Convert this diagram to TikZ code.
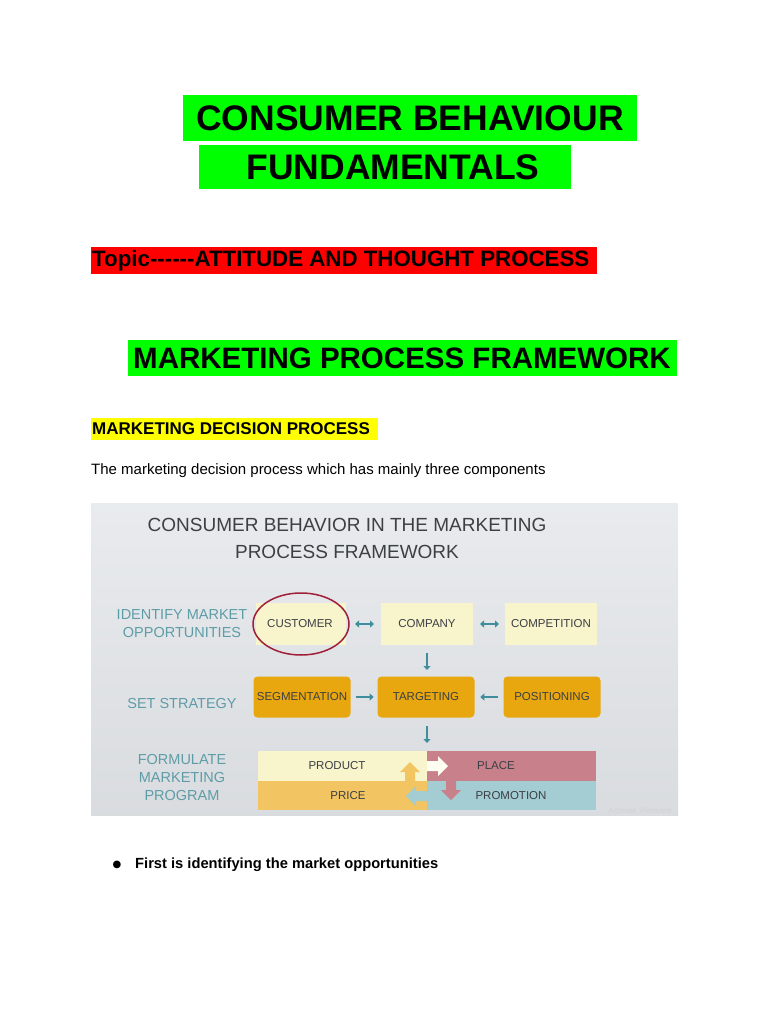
\documentclass[tikz,border=0pt]{standalone}
\usepackage{fontspec}
\setmainfont{Liberation Sans}
\newfontfamily\dv{DejaVu Sans}
\usetikzlibrary{arrows.meta,shapes.geometric}
\definecolor{hgreen}{HTML}{00FF00}
\definecolor{hred}{HTML}{FF0000}
\definecolor{hyel}{HTML}{FFFF00}
\definecolor{imgbg}{HTML}{E3E6EA}
\definecolor{teal}{HTML}{5E9CA8}
\definecolor{lyel}{HTML}{F8F4CC}
\definecolor{orng}{HTML}{E8A70E}
\definecolor{pinkc}{HTML}{C8808A}
\definecolor{pricec}{HTML}{F2C462}
\definecolor{promc}{HTML}{A3CCD3}
\definecolor{arr}{HTML}{3F8E9E}
\definecolor{ttl}{HTML}{3C3F44}
\tikzset{x=1pt,y=-1pt,
 lbox/.style={fill=lyel,minimum width=92pt,minimum height=42pt,font=\fontsize{11.5}{12}\selectfont,text=ttl},
 obox/.style={fill=orng,rounded corners=4pt,minimum width=97pt,minimum height=41pt,font=\fontsize{11.5}{12}\selectfont,text=ttl},
 side/.style={text=teal,font=\fontsize{14.5}{18}\selectfont,align=center},
 conn/.style={arr,line width=2pt,-{Triangle[length=4pt,width=7pt]}},
 biconn/.style={arr,line width=2pt,{Triangle[length=4pt,width=7pt]}-{Triangle[length=4pt,width=7pt]}},
 qtext/.style={font=\fontsize{11.5}{12}\selectfont,text=ttl}}
\begin{document}
\begin{tikzpicture}
\useasboundingbox (0,0) rectangle (768,1024);
\fill[white] (0,0) rectangle (768,1024);
% headings
\fill[hgreen] (183,95) rectangle (637,141);
\fill[hgreen] (199,145) rectangle (571,189);
\node (t1) at (410,118) {\fontsize{35.5}{35}\selectfont\bfseries CONSUMER BEHAVIOUR};
\node (t2) at (393,167) {\fontsize{35.5}{35}\selectfont\bfseries FUNDAMENTALS};
\fill[hred] (91,247) rectangle (597,274);
\node[anchor=west,inner sep=0pt] (topic) at (92,261) {\fontsize{22.3}{22}\selectfont\bfseries Topic{-}{-}{-}{-}{-}{-}ATTITUDE AND THOUGHT PROCESS};
\fill[hgreen] (128,340) rectangle (677,376);
\node (mpf) at (402,358) {\fontsize{29.5}{29}\selectfont\bfseries MARKETING PROCESS FRAMEWORK};
\fill[hyel] (91,418) rectangle (378,440);
\node[anchor=west,inner sep=0pt] (mdp) at (92,429) {\fontsize{17}{16}\selectfont\bfseries MARKETING DECISION PROCESS};
\node[anchor=west,inner sep=0pt] (intro) at (91,471) {\fontsize{15}{14}\selectfont The marketing decision process which has mainly three components};
% image
\shade[top color=imgbg!80!white,bottom color=imgbg!90!gray] (91,503) rectangle (678,815);
\node[text=ttl,align=center,font=\fontsize{19}{27}\selectfont] (it) at (347,538) {CONSUMER BEHAVIOR IN THE MARKETING\\PROCESS FRAMEWORK};
\node[side] (s1) at (182,624) {IDENTIFY MARKET\\OPPORTUNITIES};
\node[side] (s2) at (182,703) {SET STRATEGY};
\node[side] (s3) at (182,777) {FORMULATE\\MARKETING\\PROGRAM};
\fill[lyel] (256,603) rectangle (346,645);
\node[qtext] (cust) at (300,624) {CUSTOMER};
\draw[draw={rgb,255:red,160;green,30;blue,55},line width=1.5pt] (301,624) ellipse (48pt and 31pt);
\node[lbox] (comp) at (427,624) {COMPANY};
\node[lbox] (compe) at (551,624) {COMPETITION};
\node[obox] (seg) at (302,697) {SEGMENTATION};
\node[obox] (tar) at (426,697) {TARGETING};
\node[obox] (pos) at (552,697) {POSITIONING};
\draw[biconn] (355,624) -- (374,624);
\draw[biconn] (480,624) -- (499,624);
\draw[conn] (seg.east)++(5,0) -- ++(18,0);
\draw[conn] (pos.west)++(-5,0) -- ++(-18,0);
\draw[conn] (427,653) -- (427,670);
\draw[conn] (427,726) -- (427,743);
% program
\fill[lyel] (258,751) rectangle (427,781);
\fill[pinkc] (427,751) rectangle (596,781);
\fill[pricec] (258,781) rectangle (427,810);
\fill[promc] (427,781) rectangle (596,810);
\node[qtext] (prod) at (337,766) {PRODUCT};
\node[qtext] (place) at (496,766) {PLACE};
\node[qtext] (price) at (348,796) {PRICE};
\node[qtext] (prom) at (511,796) {PROMOTION};
\fill[pricec] (405,785) -- (405,772) -- (400,772) -- (410,762) -- (420,772) -- (415,772) -- (415,785) -- cycle;
\fill[white!95!yellow] (427,761) -- (438,761) -- (438,756) -- (448,766) -- (438,776) -- (438,771) -- (427,771) -- cycle;
\fill[pinkc] (446,781) -- (446,790) -- (441,790) -- (451,800) -- (461,790) -- (456,790) -- (456,781) -- cycle;
\fill[promc] (427,791) -- (416,791) -- (416,786) -- (406,796) -- (416,806) -- (416,801) -- (427,801) -- cycle;
\node[text=gray!35,font=\fontsize{8}{8}\selectfont] (aw) at (640,811) {Activate Windows};
% bullet
\node (bul) at (117,865) {\dv\fontsize{10}{10}\selectfont ●};
\node[anchor=west,inner sep=0pt] (b1) at (135,865) {\fontsize{14.7}{14}\selectfont\bfseries First is identifying the market opportunities};
\end{tikzpicture}
\end{document}
